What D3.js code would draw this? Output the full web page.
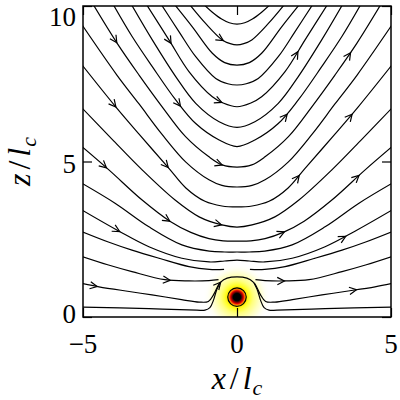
<!DOCTYPE html>
<html>
<head>
<meta charset="utf-8">
<script src="https://cdn.jsdelivr.net/npm/d3@7"></script>
<style>
  body { margin: 0; background: #fff; }
  svg { display: block; }
</style>
</head>
<body>
<div id="chart"></div>
<script>
// streamlines, left half only (x <= 0), in units of l_c
// the flow is mirror symmetric about x = 0, so the right half is the reflection
var line01 = [[-1.08, 10.05], [-0.8, 9.8], [-0.5, 9.58], [-0.25, 9.46], [0, 9.42]];
var line02 = [[-1.55, 10.06], [-1.02, 9.44], [-0.48, 8.91], [-0.22, 8.79], [0, 8.75]];
var line03 = [[-2.02, 10.04], [-1.45, 9.33], [-0.8, 8.48], [-0.4, 8.18], [0, 8.1]];
var line04 = [[-2.46, 10.05], [-1.88, 9.17], [-1.34, 8.37], [-0.69, 7.67], [-0.3, 7.5], [0, 7.46]];
var line05 = [[-2.94, 10.05], [-2.21, 8.91], [-1.56, 7.89], [-0.8, 7.08], [-0.45, 6.88], [0, 6.76]];
var line06 = [[-3.43, 10.05], [-2.75, 8.91], [-1.99, 7.73], [-1.34, 6.87], [-0.58, 6.28], [0, 6.1]];
var line07 = [[-4.02, 10.05], [-3.4, 9.01], [-2.75, 8.05], [-1.99, 6.98], [-1.34, 6.22], [-0.58, 5.69], [0, 5.48]];
var line08 = [[-4.67, 10.05], [-3.89, 8.8], [-3.18, 7.78], [-2.43, 6.76], [-1.67, 5.8], [-0.91, 5.15], [-0.48, 4.89], [0, 4.82]];
var line09 = [[-5.05, 9.42], [-3.9, 7.78], [-3.18, 6.85], [-2.44, 5.88], [-1.66, 4.98], [-0.91, 4.41], [-0.49, 4.23], [0, 4.18]];
var line10 = [[-5.05, 8.13], [-3.93, 6.75], [-3.18, 5.88], [-2.21, 4.78], [-1.66, 4.15], [-1.04, 3.72], [-0.49, 3.57], [0, 3.54]];
var line11 = [[-5.05, 6.74], [-4.06, 5.72], [-3.08, 4.73], [-2.01, 3.76], [-1.23, 3.22], [-0.49, 2.96], [0, 2.89]];
var line12 = [[-5.05, 5.49], [-4.16, 4.73], [-3.08, 3.76], [-2.18, 3.08], [-1.5, 2.72], [-0.91, 2.52], [-0.45, 2.45], [0, 2.44]];
var line13 = [[-5.05, 4.31], [-3.96, 3.66], [-2.86, 2.9], [-1.79, 2.32], [-0.9, 2.12], [-0.4, 2.09], [0, 2.09]];
var line14 = [[-5.05, 3.45], [-3.83, 2.76], [-2.86, 2.26], [-1.79, 1.89], [-0.9, 1.77], [-0.4, 1.8], [0, 1.83]];
var line15 = [[-5.05, 2.75], [-4.2, 2.42], [-3.41, 2.15], [-2.5, 1.88], [-1.56, 1.62], [-0.9, 1.53], [-0.42, 1.53]];
var line16 = [[-5.05, 1.95], [-4.2, 1.68], [-3.41, 1.46], [-2.34, 1.2], [-1.56, 1.16], [-0.91, 1.17], [-0.6, 1.2]];
var line17 = [[-5.05, 1.08], [-4.48, 0.97], [-3.5, 0.82], [-2.76, 0.71], [-1.8, 0.56], [-1.23, 0.48], [-0.93, 0.5], [-0.76, 0.72], [-0.63, 0.98], [-0.56, 1.1]];
var line18 = [[-5.05, 0.32], [-2.86, 0.27], [-1.3, 0.22], [-1.04, 0.22], [-0.88, 0.3], [-0.76, 0.55], [-0.66, 0.87], [-0.52, 1.13], [-0.32, 1.25], [0, 1.29]];

// joined = the line runs through x = 0, otherwise it stops short of the centre on both sides
var streamlines = [
    {pts: line01, joined: true}, {pts: line02, joined: true}, {pts: line03, joined: true},
    {pts: line04, joined: true}, {pts: line05, joined: true}, {pts: line06, joined: true},
    {pts: line07, joined: true}, {pts: line08, joined: true}, {pts: line09, joined: true},
    {pts: line10, joined: true}, {pts: line11, joined: true}, {pts: line12, joined: true},
    {pts: line13, joined: true}, {pts: line14, joined: true}, {pts: line15, joined: false},
    {pts: line16, joined: false}, {pts: line17, joined: false}, {pts: line18, joined: true}
];

// where the arrow heads sit (they snap onto the nearest streamline)
var arrowX = [-3.9, -2.14, -0.49, -3.93, -1.88, -0.49, -4.25, -2.21, -0.49, -3.83, -2.18, -0.49, -4.55, -2.18, -0.52,
              2.01, 3.64, 1.59, 3.7, 1.92, 3.96, 1.56, 3.54, 1.53, 3.86];
var arrowZ = [8.81, 8.81, 8.84, 6.75, 6.75, 6.88, 4.79, 4.82, 4.89, 2.73, 3.05, 2.96, 0.96, 1.06, 1.13,
              8.52, 8.52, 6.56, 6.56, 4.63, 4.57, 2.73, 2.57, 0.93, 0.96];

// the particle above the wall
var particleX = 0, particleZ = 0.64, particleR = 0.3;

var xTicks = [-5, 0, 5];
var zTicks = [0, 5, 10];

var width = 400, height = 400;
var x = d3.scaleLinear().domain([-5, 5]).range([83, 391]);
var z = d3.scaleLinear().domain([0, 10]).range([317, 6]);

var svg = d3.select("#chart").append("svg").attr("width", width).attr("height", height);

svg.append("defs").append("clipPath").attr("id", "plotclip")
    .append("rect").attr("x", x(-5)).attr("y", z(10))
    .attr("width", x(5) - x(-5)).attr("height", z(0) - z(10));

// colour glow round the particle, black core -> red -> yellow -> white
var glowR = 34;
var grad = svg.select("defs").append("radialGradient").attr("id", "glow");
var stops = [[0, "#000000", 1], [0.11, "#000000", 1], [0.15, "#700000", 1], [0.19, "#e00000", 1],
             [0.22, "#ff5a00", 1], [0.25, "#ffb000", 1], [0.28, "#ffee00", 1], [0.36, "#ffff30", 1],
             [0.48, "#ffff80", 1], [0.65, "#ffffc0", 1], [0.82, "#fffff0", 1], [1, "#ffffff", 0]];
grad.selectAll("stop").data(stops).enter().append("stop")
    .attr("offset", function(d) { return d[0]; })
    .attr("stop-color", function(d) { return d[1]; })
    .attr("stop-opacity", function(d) { return d[2]; });

var plot = svg.append("g").attr("clip-path", "url(#plotclip)");

plot.append("circle")
    .attr("cx", x(particleX)).attr("cy", z(particleZ)).attr("r", glowR)
    .attr("fill", "url(#glow)");

// build the full streamlines from the halves
var line = d3.line()
    .x(function(d) { return x(d[0]); })
    .y(function(d) { return z(d[1]); })
    .curve(d3.curveCatmullRom.alpha(0.5));

var segments = [];
streamlines.forEach(function(s) {
    var mirror = s.pts.slice().reverse().map(function(p) { return [-p[0], p[1]]; });
    if (s.joined) {
        segments.push(s.pts.concat(mirror.slice(1)));
    } else {
        segments.push(s.pts);
        segments.push(mirror);
    }
});

plot.selectAll("path.stream").data(segments).enter().append("path")
    .attr("class", "stream")
    .attr("d", line)
    .attr("fill", "none")
    .attr("stroke", "#000")
    .attr("stroke-width", 1.2);

// arrow heads: find the closest point on any streamline and follow its direction
var nodes = plot.selectAll("path.stream").nodes();
var headLen = 8, headAng = 27 * Math.PI / 180;
arrowX.forEach(function(ax, i) {
    var px = x(ax), py = z(arrowZ[i]);
    var best = null;
    nodes.forEach(function(p) {
        var len = p.getTotalLength();
        for (var l = 0; l <= len; l += 1) {
            var pt = p.getPointAtLength(l);
            var dd = (pt.x - px) * (pt.x - px) + (pt.y - py) * (pt.y - py);
            if (!best || dd < best.d) best = {d: dd, node: p, l: l, len: len};
        }
    });
    var tip = best.node.getPointAtLength(best.l);
    var a = best.node.getPointAtLength(Math.max(0, best.l - 2));
    var b = best.node.getPointAtLength(Math.min(best.len, best.l + 2));
    var ang = Math.atan2(b.y - a.y, b.x - a.x);
    var p1 = [tip.x - headLen * Math.cos(ang - headAng), tip.y - headLen * Math.sin(ang - headAng)];
    var p2 = [tip.x - headLen * Math.cos(ang + headAng), tip.y - headLen * Math.sin(ang + headAng)];
    plot.append("path")
        .attr("d", "M" + p1 + "L" + [tip.x, tip.y] + "L" + p2)
        .attr("fill", "none").attr("stroke", "#000").attr("stroke-width", 1.2);
});

// the particle itself: black outline ring
plot.append("circle")
    .attr("cx", x(particleX)).attr("cy", z(particleZ))
    .attr("r", x(particleR) - x(0))
    .attr("fill", "none").attr("stroke", "#000").attr("stroke-width", 1.2);

// inward ticks on all four sides
svg.append("g").attr("transform", "translate(0," + z(0) + ")")
    .call(d3.axisBottom(x).tickValues(xTicks).tickSize(-9).tickFormat(""));
svg.append("g").attr("transform", "translate(0," + z(10) + ")")
    .call(d3.axisTop(x).tickValues(xTicks).tickSize(-9).tickFormat(""));
svg.append("g").attr("transform", "translate(" + x(-5) + ",0)")
    .call(d3.axisLeft(z).tickValues(zTicks).tickSize(-9).tickFormat(""));
svg.append("g").attr("transform", "translate(" + x(5) + ",0)")
    .call(d3.axisRight(z).tickValues(zTicks).tickSize(-9).tickFormat(""));
svg.selectAll(".domain").remove();
svg.selectAll(".tick line").attr("stroke", "#000").attr("stroke-width", 1.2);

// frame
svg.append("rect")
    .attr("x", x(-5)).attr("y", z(10))
    .attr("width", x(5) - x(-5)).attr("height", z(0) - z(10))
    .attr("fill", "none").attr("stroke", "#000").attr("stroke-width", 1.5);

var font = "'Liberation Serif', 'DejaVu Serif', serif";

// tick labels
svg.selectAll("text.xlab").data(xTicks).enter().append("text")
    .attr("class", "xlab")
    .attr("x", function(d) { return x(d); })
    .attr("y", z(0) + 36)
    .attr("text-anchor", "middle")
    .style("font-family", font).style("font-size", "27px")
    .text(function(d) { return d < 0 ? "\u2212" + Math.abs(d) : d; });

svg.selectAll("text.zlab").data(zTicks).enter().append("text")
    .attr("class", "zlab")
    .attr("x", x(-5) - 7)
    .attr("y", function(d) { return Math.min(Math.max(z(d) + 11, 26), z(0) + 6); }) // keep the end labels on the page and clear of the x labels
    .attr("text-anchor", "end")
    .style("font-family", font).style("font-size", "27px")
    .text(function(d) { return d; });

// axis titles x/l_c and z/l_c
function axisTitle(sel, v) {
    sel.style("font-family", font).style("font-size", "32px");
    sel.append("tspan").style("font-style", "italic").text(v);
    sel.append("tspan").attr("dx", 4).text("/");
    sel.append("tspan").attr("dx", 4).style("font-style", "italic").text("l");
    sel.append("tspan").attr("dx", 1).attr("dy", 6).style("font-style", "italic").style("font-size", "22px").text("c");
}

svg.append("text")
    .attr("x", x(0)).attr("y", 389)
    .attr("text-anchor", "middle")
    .call(axisTitle, "x");

svg.append("text")
    .attr("transform", "translate(30," + z(5) + ") rotate(-90)")
    .attr("text-anchor", "middle")
    .call(axisTitle, "z");
</script>
</body>
</html>
